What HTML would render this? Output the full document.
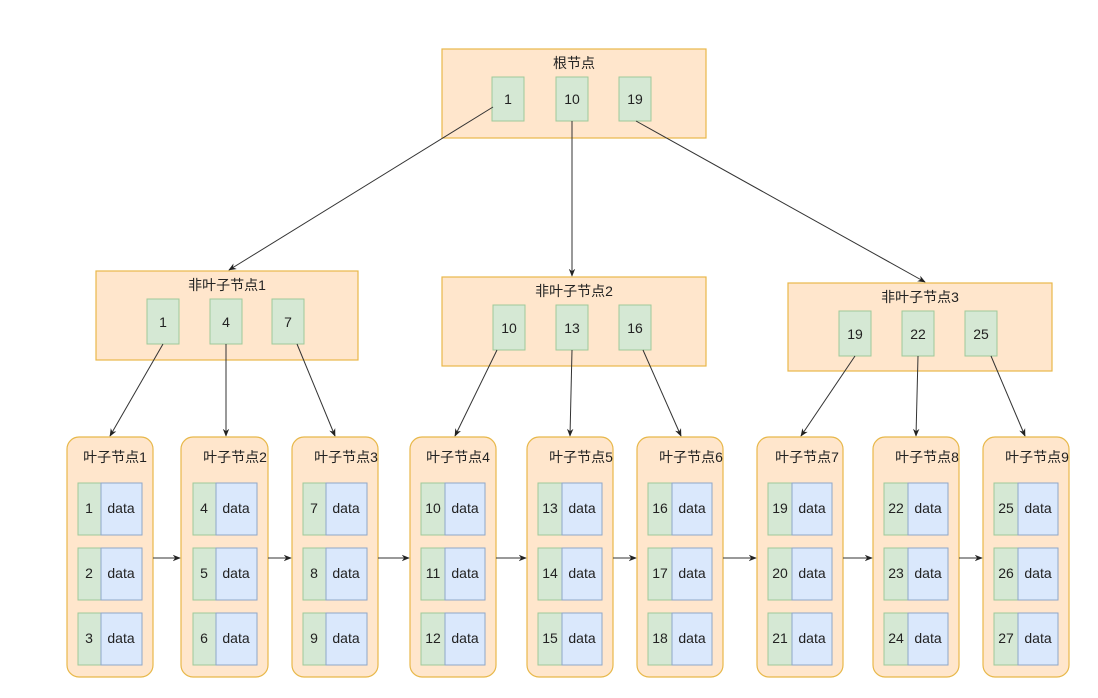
<!DOCTYPE html>
<html><head><meta charset="utf-8"><style>
html,body{margin:0;padding:0;background:#fff;}
text{font-family:"Liberation Sans","Noto Sans CJK SC",sans-serif;font-size:14px;fill:#222;}
.o{fill:#ffe6cc;stroke:#e8b84a;stroke-width:1.2}
.g{fill:#d5e8d4;stroke:#9fc99a;stroke-width:1}
.b{fill:#dae8fc;stroke:#8fa7c9;stroke-width:1}
.l{stroke:#333;stroke-width:1;fill:none;marker-end:url(#a)}
</style></head><body>
<svg width="1098" height="693" xmlns="http://www.w3.org/2000/svg">
<defs><marker id="a" viewBox="0 0 10 10" refX="9" refY="5" markerWidth="8" markerHeight="8" orient="auto"><path d="M0,1 L10,5 L0,9 L3,5z" fill="#222"/></marker></defs>

<rect class="o" x="442" y="49" width="264" height="89"/>
<text x="574" y="68" text-anchor="middle">根节点</text>
<rect class="g" x="492" y="77" width="32" height="44"/><text x="508" y="104" text-anchor="middle">1</text>
<rect class="g" x="556" y="77" width="32" height="44"/><text x="572" y="104" text-anchor="middle">10</text>
<rect class="g" x="619" y="77" width="32" height="44"/><text x="635" y="104" text-anchor="middle">19</text>

<rect class="o" x="96" y="271" width="262" height="89"/>
<text x="227" y="290" text-anchor="middle">非叶子节点1</text>
<rect class="g" x="147" y="299" width="32" height="45"/><text x="163" y="327" text-anchor="middle">1</text>
<rect class="g" x="210" y="299" width="32" height="45"/><text x="226" y="327" text-anchor="middle">4</text>
<rect class="g" x="272" y="299" width="32" height="45"/><text x="288" y="327" text-anchor="middle">7</text>

<rect class="o" x="442" y="277" width="264" height="89"/>
<text x="574" y="296" text-anchor="middle">非叶子节点2</text>
<rect class="g" x="493" y="305" width="32" height="45"/><text x="509" y="333" text-anchor="middle">10</text>
<rect class="g" x="556" y="305" width="32" height="45"/><text x="572" y="333" text-anchor="middle">13</text>
<rect class="g" x="619" y="305" width="32" height="45"/><text x="635" y="333" text-anchor="middle">16</text>

<rect class="o" x="788" y="283" width="264" height="88"/>
<text x="920" y="302" text-anchor="middle">非叶子节点3</text>
<rect class="g" x="839" y="311" width="32" height="45"/><text x="855" y="339" text-anchor="middle">19</text>
<rect class="g" x="902" y="311" width="32" height="45"/><text x="918" y="339" text-anchor="middle">22</text>
<rect class="g" x="965" y="311" width="32" height="45"/><text x="981" y="339" text-anchor="middle">25</text>

<path class="l" d="M493,107 L229,270"/>
<path class="l" d="M572,121 L572,276"/>
<path class="l" d="M636,121 L925,282"/>
<path class="l" d="M163,344 L110,436"/>
<path class="l" d="M226,344 L226,436"/>
<path class="l" d="M297,344 L335,436"/>
<path class="l" d="M497,350 L455,436"/>
<path class="l" d="M572,350 L570,436"/>
<path class="l" d="M643,350 L681,436"/>
<path class="l" d="M855,356 L801,436"/>
<path class="l" d="M918,356 L916,436"/>
<path class="l" d="M991,356 L1025,436"/>

<g transform="translate(67,0)">
<rect class="o" x="0" y="437" width="86" height="240" rx="12"/><text x="48" y="462" text-anchor="middle">叶子节点1</text>
<rect class="g" x="11" y="483" width="23" height="52"/><rect class="b" x="34" y="483" width="41" height="52"/><text x="22" y="513" text-anchor="middle">1</text><text x="54" y="513" text-anchor="middle">data</text>
<rect class="g" x="11" y="548" width="23" height="52"/><rect class="b" x="34" y="548" width="41" height="52"/><text x="22" y="578" text-anchor="middle">2</text><text x="54" y="578" text-anchor="middle">data</text>
<rect class="g" x="11" y="613" width="23" height="52"/><rect class="b" x="34" y="613" width="41" height="52"/><text x="22" y="643" text-anchor="middle">3</text><text x="54" y="643" text-anchor="middle">data</text>
</g>
<g transform="translate(181,0)">
<rect class="o" x="0" y="437" width="87" height="240" rx="12"/><text x="54" y="462" text-anchor="middle">叶子节点2</text>
<rect class="g" x="12" y="483" width="23" height="52"/><rect class="b" x="35" y="483" width="41" height="52"/><text x="23" y="513" text-anchor="middle">4</text><text x="55" y="513" text-anchor="middle">data</text>
<rect class="g" x="12" y="548" width="23" height="52"/><rect class="b" x="35" y="548" width="41" height="52"/><text x="23" y="578" text-anchor="middle">5</text><text x="55" y="578" text-anchor="middle">data</text>
<rect class="g" x="12" y="613" width="23" height="52"/><rect class="b" x="35" y="613" width="41" height="52"/><text x="23" y="643" text-anchor="middle">6</text><text x="55" y="643" text-anchor="middle">data</text>
</g>
<g transform="translate(292,0)">
<rect class="o" x="0" y="437" width="86" height="240" rx="12"/><text x="54" y="462" text-anchor="middle">叶子节点3</text>
<rect class="g" x="11" y="483" width="23" height="52"/><rect class="b" x="34" y="483" width="41" height="52"/><text x="22" y="513" text-anchor="middle">7</text><text x="54" y="513" text-anchor="middle">data</text>
<rect class="g" x="11" y="548" width="23" height="52"/><rect class="b" x="34" y="548" width="41" height="52"/><text x="22" y="578" text-anchor="middle">8</text><text x="54" y="578" text-anchor="middle">data</text>
<rect class="g" x="11" y="613" width="23" height="52"/><rect class="b" x="34" y="613" width="41" height="52"/><text x="22" y="643" text-anchor="middle">9</text><text x="54" y="643" text-anchor="middle">data</text>
</g>
<g transform="translate(410,0)">
<rect class="o" x="0" y="437" width="86" height="240" rx="12"/><text x="48" y="462" text-anchor="middle">叶子节点4</text>
<rect class="g" x="11" y="483" width="24" height="52"/><rect class="b" x="35" y="483" width="40" height="52"/><text x="23" y="513" text-anchor="middle">10</text><text x="55" y="513" text-anchor="middle">data</text>
<rect class="g" x="11" y="548" width="24" height="52"/><rect class="b" x="35" y="548" width="40" height="52"/><text x="23" y="578" text-anchor="middle">11</text><text x="55" y="578" text-anchor="middle">data</text>
<rect class="g" x="11" y="613" width="24" height="52"/><rect class="b" x="35" y="613" width="40" height="52"/><text x="23" y="643" text-anchor="middle">12</text><text x="55" y="643" text-anchor="middle">data</text>
</g>
<g transform="translate(527,0)">
<rect class="o" x="0" y="437" width="86" height="240" rx="12"/><text x="54" y="462" text-anchor="middle">叶子节点5</text>
<rect class="g" x="11" y="483" width="24" height="52"/><rect class="b" x="35" y="483" width="40" height="52"/><text x="23" y="513" text-anchor="middle">13</text><text x="55" y="513" text-anchor="middle">data</text>
<rect class="g" x="11" y="548" width="24" height="52"/><rect class="b" x="35" y="548" width="40" height="52"/><text x="23" y="578" text-anchor="middle">14</text><text x="55" y="578" text-anchor="middle">data</text>
<rect class="g" x="11" y="613" width="24" height="52"/><rect class="b" x="35" y="613" width="40" height="52"/><text x="23" y="643" text-anchor="middle">15</text><text x="55" y="643" text-anchor="middle">data</text>
</g>
<g transform="translate(637,0)">
<rect class="o" x="0" y="437" width="86" height="240" rx="12"/><text x="54" y="462" text-anchor="middle">叶子节点6</text>
<rect class="g" x="11" y="483" width="24" height="52"/><rect class="b" x="35" y="483" width="40" height="52"/><text x="23" y="513" text-anchor="middle">16</text><text x="55" y="513" text-anchor="middle">data</text>
<rect class="g" x="11" y="548" width="24" height="52"/><rect class="b" x="35" y="548" width="40" height="52"/><text x="23" y="578" text-anchor="middle">17</text><text x="55" y="578" text-anchor="middle">data</text>
<rect class="g" x="11" y="613" width="24" height="52"/><rect class="b" x="35" y="613" width="40" height="52"/><text x="23" y="643" text-anchor="middle">18</text><text x="55" y="643" text-anchor="middle">data</text>
</g>
<g transform="translate(757,0)">
<rect class="o" x="0" y="437" width="86" height="240" rx="12"/><text x="50" y="462" text-anchor="middle">叶子节点7</text>
<rect class="g" x="11" y="483" width="24" height="52"/><rect class="b" x="35" y="483" width="40" height="52"/><text x="23" y="513" text-anchor="middle">19</text><text x="55" y="513" text-anchor="middle">data</text>
<rect class="g" x="11" y="548" width="24" height="52"/><rect class="b" x="35" y="548" width="40" height="52"/><text x="23" y="578" text-anchor="middle">20</text><text x="55" y="578" text-anchor="middle">data</text>
<rect class="g" x="11" y="613" width="24" height="52"/><rect class="b" x="35" y="613" width="40" height="52"/><text x="23" y="643" text-anchor="middle">21</text><text x="55" y="643" text-anchor="middle">data</text>
</g>
<g transform="translate(873,0)">
<rect class="o" x="0" y="437" width="86" height="240" rx="12"/><text x="54" y="462" text-anchor="middle">叶子节点8</text>
<rect class="g" x="11" y="483" width="24" height="52"/><rect class="b" x="35" y="483" width="40" height="52"/><text x="23" y="513" text-anchor="middle">22</text><text x="55" y="513" text-anchor="middle">data</text>
<rect class="g" x="11" y="548" width="24" height="52"/><rect class="b" x="35" y="548" width="40" height="52"/><text x="23" y="578" text-anchor="middle">23</text><text x="55" y="578" text-anchor="middle">data</text>
<rect class="g" x="11" y="613" width="24" height="52"/><rect class="b" x="35" y="613" width="40" height="52"/><text x="23" y="643" text-anchor="middle">24</text><text x="55" y="643" text-anchor="middle">data</text>
</g>
<g transform="translate(983,0)">
<rect class="o" x="0" y="437" width="86" height="240" rx="12"/><text x="54" y="462" text-anchor="middle">叶子节点9</text>
<rect class="g" x="11" y="483" width="24" height="52"/><rect class="b" x="35" y="483" width="40" height="52"/><text x="23" y="513" text-anchor="middle">25</text><text x="55" y="513" text-anchor="middle">data</text>
<rect class="g" x="11" y="548" width="24" height="52"/><rect class="b" x="35" y="548" width="40" height="52"/><text x="23" y="578" text-anchor="middle">26</text><text x="55" y="578" text-anchor="middle">data</text>
<rect class="g" x="11" y="613" width="24" height="52"/><rect class="b" x="35" y="613" width="40" height="52"/><text x="23" y="643" text-anchor="middle">27</text><text x="55" y="643" text-anchor="middle">data</text>
</g>

<path class="l" d="M153,558 L180,558"/>
<path class="l" d="M268,558 L291,558"/>
<path class="l" d="M378,558 L409,558"/>
<path class="l" d="M496,558 L526,558"/>
<path class="l" d="M613,558 L636,558"/>
<path class="l" d="M723,558 L756,558"/>
<path class="l" d="M843,558 L872,558"/>
<path class="l" d="M959,558 L982,558"/>
</svg>
</body></html>
